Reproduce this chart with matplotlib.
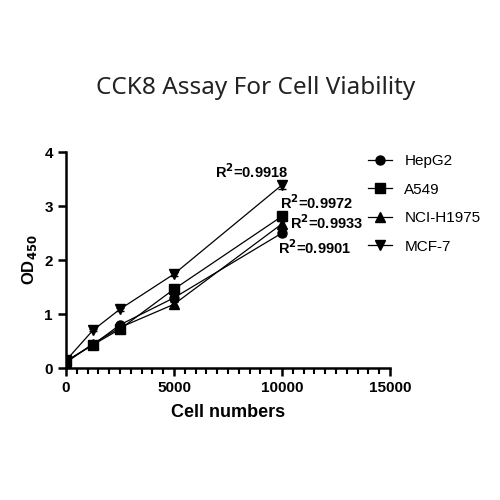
import matplotlib.pyplot as plt
from matplotlib.ticker import MultipleLocator
from matplotlib.lines import Line2D

cells = [0, 1250, 2500, 5000, 10000]

hepg2 = [0.12, 0.43, 0.80, 1.30, 2.50]
hepg2_err = [0.02, 0.02, 0.03, 0.05, 0.05]
a549 = [0.13, 0.43, 0.72, 1.46, 2.81]
a549_err = [0.02, 0.02, 0.03, 0.04, 0.05]
nci = [0.10, 0.45, 0.75, 1.18, 2.67]
nci_err = [0.02, 0.02, 0.03, 0.04, 0.05]
mcf7 = [0.14, 0.70, 1.09, 1.74, 3.39]
mcf7_err = [0.02, 0.02, 0.03, 0.04, 0.08]

names = ['HepG2', 'A549', 'NCI-H1975', 'MCF-7']
markers = ['o', 's', '^', 'v']
r2 = ['0.9901', '0.9972', '0.9933', '0.9918']
r2_pos = [(9800, 2.22), (9900, 3.07), (10350, 2.70), (6900, 3.63)]

plt.rcParams['font.family'] = ['Liberation Sans', 'DejaVu Sans']

fig = plt.figure(figsize=(5, 5), dpi=100)
ax = fig.add_axes([0.132, 0.264, 0.648, 0.432])

series = [(hepg2, hepg2_err), (a549, a549_err), (nci, nci_err), (mcf7, mcf7_err)]
handles = []
for (vals, err), name, m in zip(series, names, markers):
    ax.errorbar(cells, vals, yerr=err, color='black', marker=m, markersize=6.5,
                linewidth=0.9, elinewidth=0.9, capsize=3)
    handles.append(Line2D([], [], color='black', marker=m, markersize=6.5,
                          linewidth=0.9, label=name))

for (x, y), r in zip(r2_pos, r2):
    ax.text(x, y, 'R$^\\mathbf{2}$=' + r, fontsize=10.5, fontweight='bold',
            ha='left', va='center')

ax.set_xlim(0, 15000)
ax.set_ylim(0, 4)
ax.xaxis.set_major_locator(MultipleLocator(5000))
ax.xaxis.set_minor_locator(MultipleLocator(500))
ax.yaxis.set_major_locator(MultipleLocator(1))
for s in ['top', 'right']:
    ax.spines[s].set_visible(False)
for s in ['left', 'bottom']:
    ax.spines[s].set_linewidth(1.8)
ax.tick_params(which='major', width=1.8, length=6, labelsize=11)
ax.tick_params(which='minor', width=1.5, length=4)
for lab in ax.get_xticklabels() + ax.get_yticklabels():
    lab.set_fontweight('bold')

ax.set_xlabel('Cell numbers', fontsize=13, fontweight='bold', labelpad=6)
ax.set_ylabel('OD$_{\\mathbf{450}}$', fontsize=12, fontweight='bold')

fig.legend(handles=handles, loc='upper left', bbox_to_anchor=(0.72, 0.707),
           frameon=False, fontsize=11, handlelength=1.6, handletextpad=0.8,
           labelspacing=0.95, borderpad=0)

fig.text(0.511, 0.825, 'CCK8 Assay For Cell Viability', fontsize=17.5,
         family=['Noto Sans', 'DejaVu Sans'], ha='center', va='center', color='#222222')

fig.savefig('out.png', dpi=100)
